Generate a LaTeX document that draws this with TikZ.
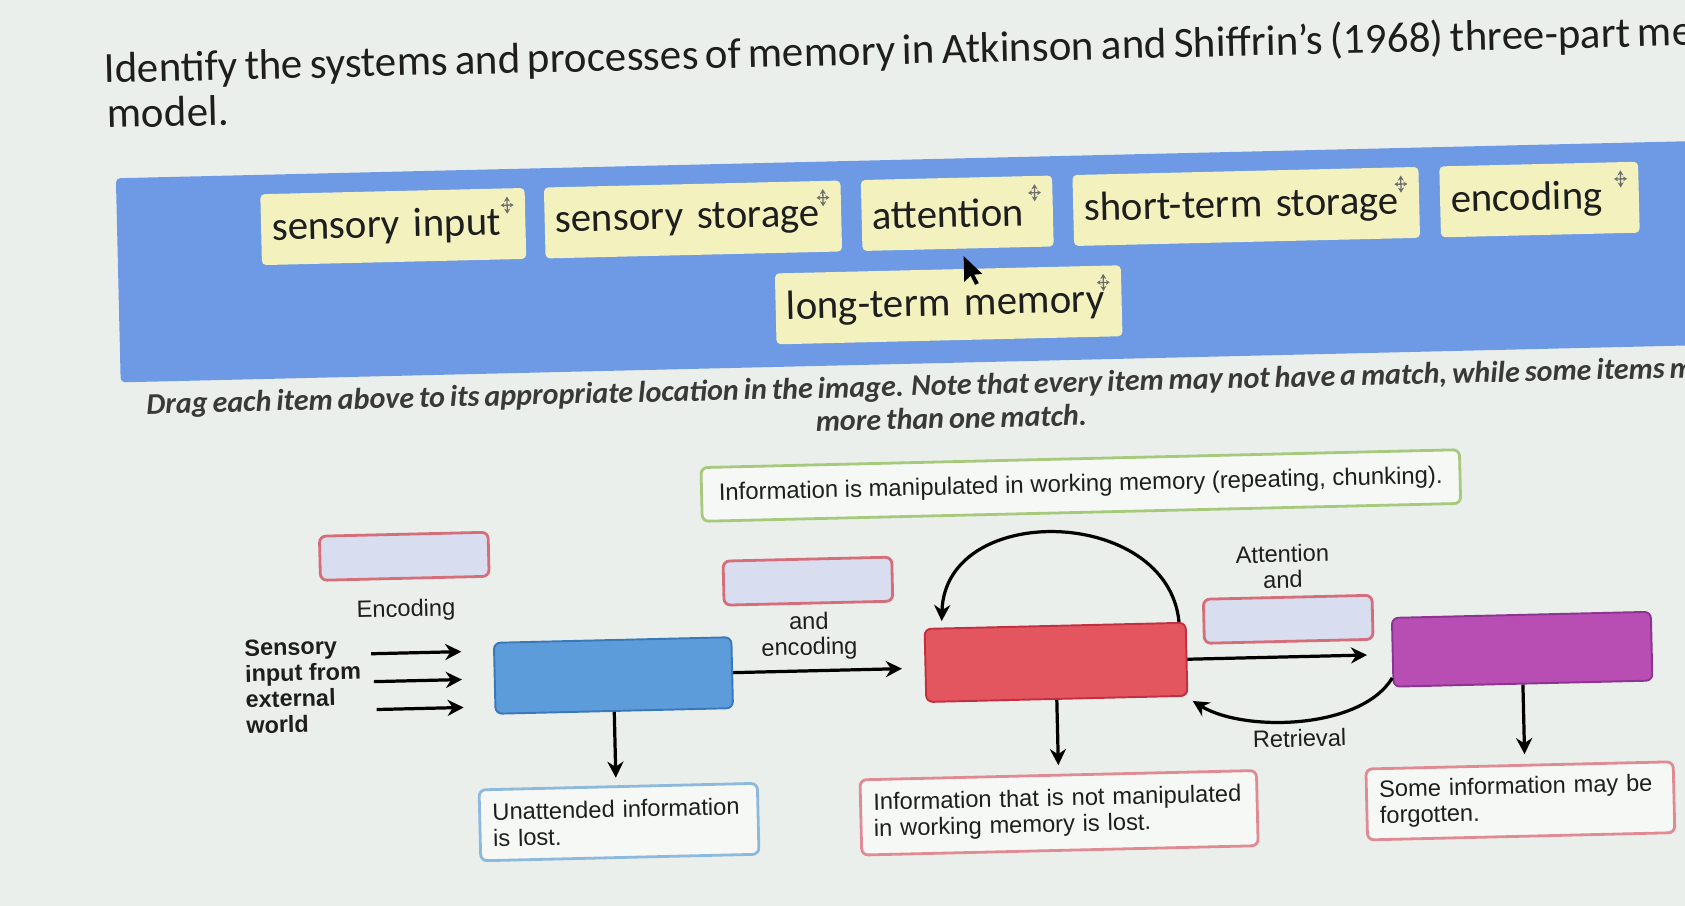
\documentclass[tikz,border=0pt]{standalone}
\usepackage{fontspec}
\setmainfont{Carlito}[WordSpace=0.72]
\newfontfamily\diagfont{Liberation Sans}
\usetikzlibrary{arrows.meta,calc}
\definecolor{bg}{HTML}{EBEFEC}
\definecolor{panel}{HTML}{6E9AE5}
\definecolor{chipfill}{HTML}{F3F1BE}
\definecolor{dropfill}{HTML}{D9DDF0}
\definecolor{dropline}{HTML}{D66E7A}
\definecolor{greenline}{HTML}{A6C97E}
\definecolor{bluebox}{HTML}{5D9CDA}
\definecolor{blueline}{HTML}{3B78B8}
\definecolor{redbox}{HTML}{E4565F}
\definecolor{redline}{HTML}{C23040}
\definecolor{purplebox}{HTML}{B84DB4}
\definecolor{purpleline}{HTML}{8A3590}
\definecolor{lostblue}{HTML}{8DBADC}
\definecolor{lostpink}{HTML}{E08A94}
\definecolor{ink}{HTML}{1E1E1E}
\tikzset{
  chip/.style={fill=chipfill, draw=none, rounded corners=2pt, minimum height=33pt,
    inner xsep=5pt, inner ysep=0pt, font=\fontsize{19}{22}\selectfont, text=ink, align=left},
  moveicon/.pic={
    \draw[line width=0.6pt, draw=ink!65, {Stealth[length=2.4pt,width=2.8pt]}-{Stealth[length=2.4pt,width=2.8pt]}] (0,-8)--(0,8);
    \draw[line width=0.6pt, draw=ink!65, {Stealth[length=1.8pt,width=2.2pt]}-{Stealth[length=1.8pt,width=2.2pt]}] (-6,0)--(6,0);
  },
  dropbox/.style={fill=dropfill, draw=dropline, line width=1.3pt, rounded corners=3pt,
    minimum width=78.5pt, minimum height=20.5pt},
  memblue/.style={fill=bluebox, draw=blueline, line width=0.9pt, rounded corners=3pt,
    minimum width=110.5pt, minimum height=33pt},
  memred/.style={fill=redbox, draw=redline, line width=0.9pt, rounded corners=3pt,
    minimum width=121.5pt, minimum height=34pt},
  mempurple/.style={fill=purplebox, draw=purpleline, line width=0.9pt, rounded corners=3pt,
    minimum width=120.5pt, minimum height=32pt},
  losttext/.style={fill=white!55!bg, line width=1.3pt, rounded corners=3pt, inner xsep=6pt,
    align=left, font=\diagfont\fontsize{11}{12.2}\selectfont, text=ink},
  lbl/.style={font=\diagfont\fontsize{11}{12}\selectfont, text=ink, align=center, inner sep=0pt},
  arr/.style={draw=black, line width=1.5pt, -{Stealth[length=7.5pt,width=7.5pt]}},
}
\begin{document}
\begin{tikzpicture}[x=0.5pt,y=-0.5pt]
\useasboundingbox (0,0) rectangle (1568,843);
\clip (0,0) rectangle (1568,843);
\fill[bg] (0,0) rectangle (1568,843);
\begin{scope}[rotate around={1.35:(784,421)}, transform shape]
  % title
  \node[anchor=base west, inner sep=0pt, font=\fontsize{20}{24}\selectfont, text=ink] (title1) at (105,61)
    {Identify the systems and processes of memory in Atkinson and Shiffrin’s (1968) three-part memory};
  \node[anchor=base west, inner sep=0pt, font=\fontsize{20}{24}\selectfont, text=ink] (title2) at (107,103) {model.};
  % panel
  \fill[panel, rounded corners=2pt] (114,150) rectangle (1640,340);
  % chips
  \node[chip, minimum width=123pt, text width=113pt] (c1) at (371,201) {sensory input};
  \node[chip, minimum width=138pt, text width=128pt] (c2) at (650,201) {sensory storage};
  \node[chip, minimum width=89pt, text width=79pt] (c3) at (896,201) {attention};
  \node[chip, minimum width=161pt, text width=151pt] (c4) at (1165,201) {short-term storage};
  \node[chip, minimum width=92.5pt, text width=82.5pt] (c5) at (1438,201) {encoding};
  \node[chip, minimum width=161pt, text width=151pt] (c6) at (886,286) {long-term memory};
  \foreach \c in {c1,c2,c3,c4,c5,c6}{
    \path ($(\c.north east)+(-17,16)$) pic {moveicon};
  }
  % cursor
  \fill[black] (901,241) -- ++(0,24) -- ++(6,-5.5) -- ++(4,8.5) -- ++(3.5,-1.5) -- ++(-4,-8) -- ++(7.5,-0.5) -- cycle;
  % instructions
  \node[anchor=base west, inner sep=0pt, font=\bfseries\itshape\fontsize{14}{16}\selectfont, text=ink!88] (instr1) at (137,370)
    {Drag each item above to its appropriate location in the image. Note that every item may not have a match, while some items may have};
  \node[anchor=base, inner sep=0pt, font=\bfseries\itshape\fontsize{14}{16}\selectfont, text=ink!88] (instr2) at (886,401)
    {more than one match.};
  % diagram
  \node[fill=white!55!bg, draw=greenline, line width=1.3pt, rounded corners=3pt, minimum width=353pt, minimum height=25pt,
        font=\diagfont\fontsize{11.1}{12}\selectfont, text=ink] (manip) at (1005,457)
    {Information is manipulated in working memory (repeating, chunking).};
  \node[dropbox] (drop1) at (374,508) {};
  \node[dropbox] (drop2) at (749,540) {};
  \node[dropbox] (drop3) at (1195,586) {};
  \node[lbl] (enc) at (374.5,558.5) {Encoding};
  \node[lbl, anchor=west, align=left, font=\diagfont\bfseries\fontsize{10.9}{12}\selectfont] (sens) at (223,626)
    {Sensory\\input from\\external\\world};
  \node[memblue] (sensory) at (566,623.5) {};
  \node[memred] (stm) at (978,621) {};
  \node[mempurple] (ltm) at (1412,619) {};
  \node[lbl] (andenc) at (749,591) {and\\encoding};
  \node[lbl] (attand) at (1191,537) {Attention\\and};
  \node[lbl] (retr) at (1203,697) {Retrieval};
  \node[losttext, draw=lostblue, minimum width=129.5pt, minimum height=33pt, text width=117.5pt] (unatt) at (568,760)
    {Unattended information\\is lost.};
  \node[losttext, draw=lostpink, minimum width=184.5pt, minimum height=35pt, text width=172.5pt] (notman) at (977.6,761)
    {Information that is not manipulated\\in working memory is lost.};
  \node[losttext, draw=lostpink, minimum width=143pt, minimum height=33pt, text width=131pt] (forgot) at (1407,760)
    {Some information may be\\forgotten.};
  % input arrows
  \coordinate (in1s) at (341,598); \coordinate (in1e) at (425,598);
  \coordinate (in2s) at (343,624); \coordinate (in2e) at (425,624);
  \coordinate (in3s) at (345,650); \coordinate (in3e) at (426,650);
  \draw[arr] (in1s) -- (in1e);
  \draw[arr] (in2s) -- (in2e);
  \draw[arr] (in3s) -- (in3e);
  % flow arrows
  \draw[arr, shorten >=10.5pt] (sensory.east) -- (sensory.east -| stm.west);
  \draw[arr, shorten >=11.5pt] (stm.east) -- (stm.east -| ltm.west);
  \draw[arr] ([xshift=-3.5pt]stm.north east) .. controls +(-8,-108) and +(6,-112) .. ([xshift=8.5pt,yshift=3pt]stm.north west);
  \draw[arr] ([yshift=4.5pt]ltm.south west) .. controls +(-31,48) and +(46,30) .. ([xshift=2pt,yshift=-2pt]stm.south east);
  \draw[arr, shorten >=3.5pt] (sensory.south) -- (sensory.south |- unatt.north);
  \draw[arr, shorten >=4pt] (stm.south) -- (stm.south |- notman.north);
  \draw[arr, shorten >=4.5pt] (ltm.south) -- (ltm.south |- forgot.north);
\end{scope}
\end{tikzpicture}
\end{document}
